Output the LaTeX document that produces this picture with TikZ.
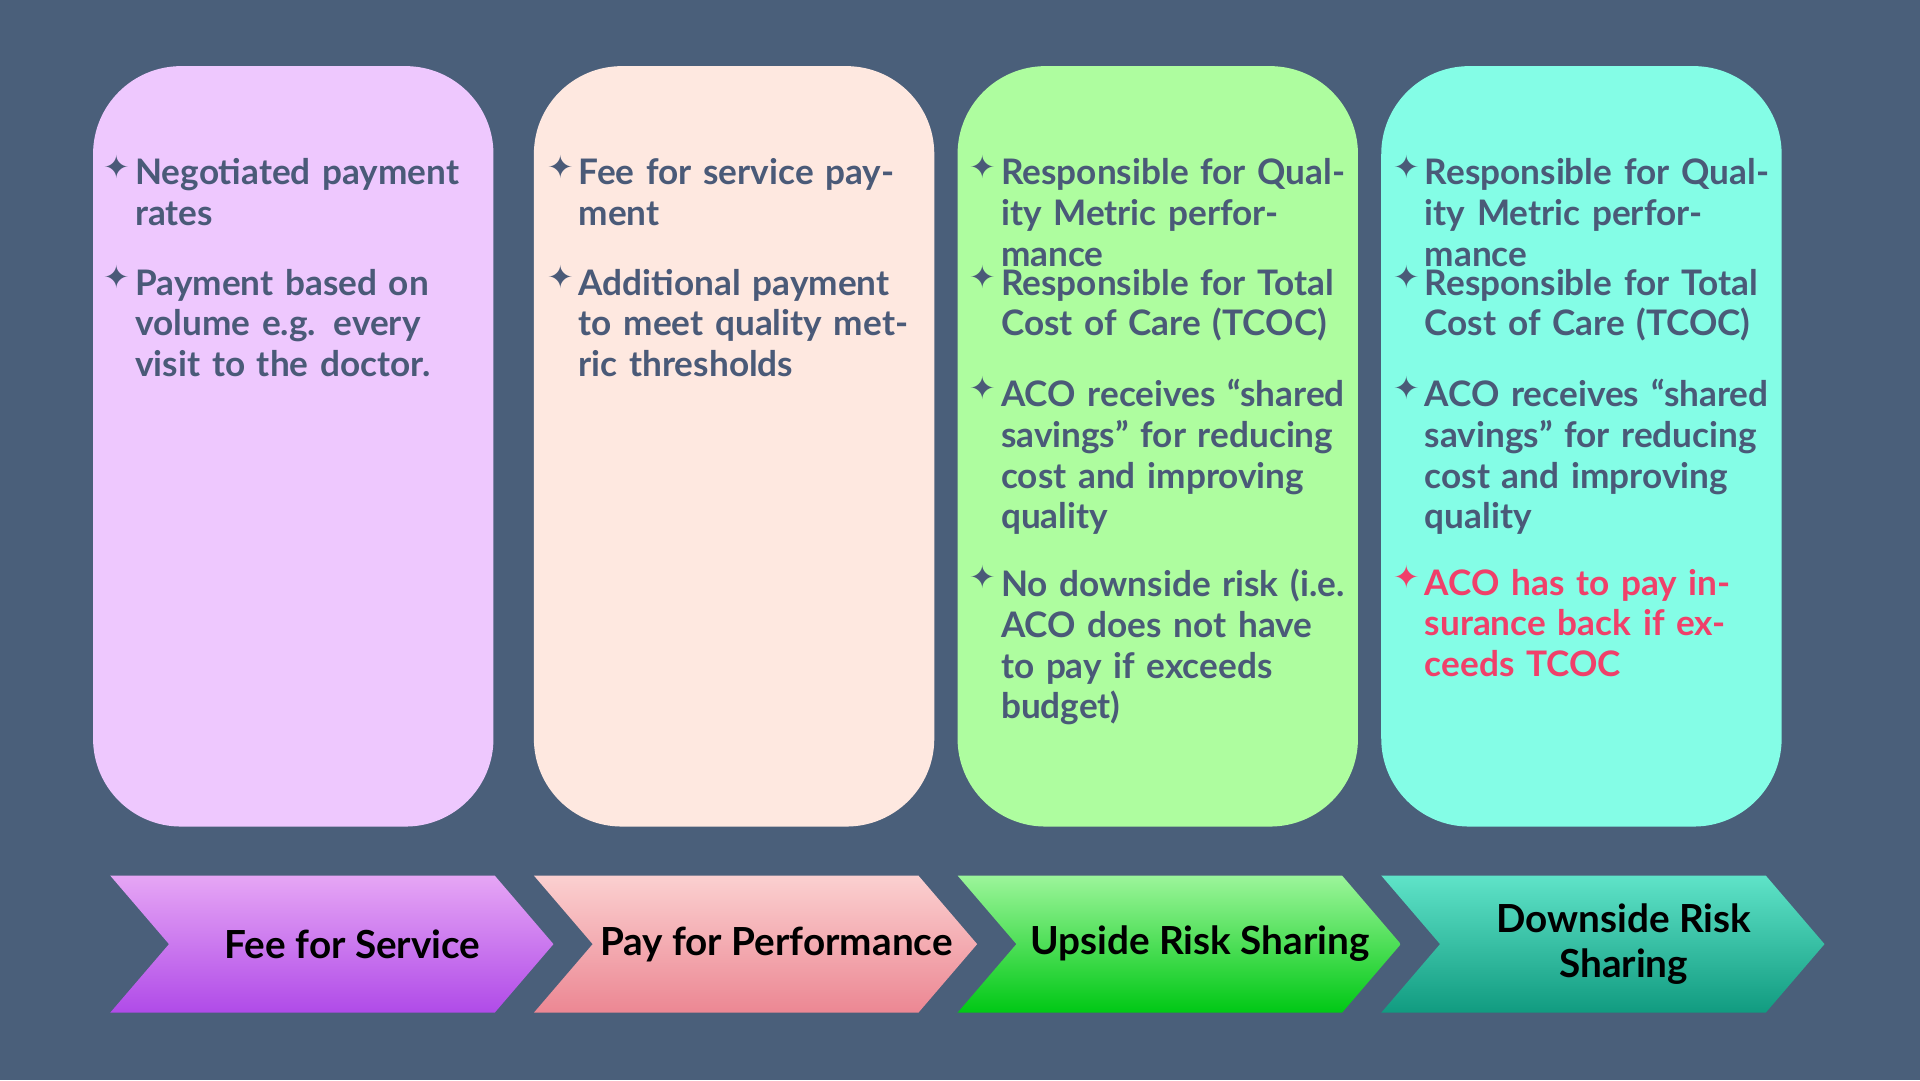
\documentclass[tikz,border=0pt]{standalone}
\usepackage{fontspec}
\setmainfont{Lato}
\newfontfamily\symfont{DejaVu Sans}
\usetikzlibrary{positioning}
\definecolor{bg}{HTML}{4A5F7A}
\definecolor{txt}{HTML}{4A5A78}
\definecolor{alert}{HTML}{F0406A}
\definecolor{cardA}{HTML}{EEC8FE}
\definecolor{cardB}{HTML}{FEE8E0}
\definecolor{cardC}{HTML}{AEFD9F}
\definecolor{cardD}{HTML}{84FDE6}
\definecolor{topA}{HTML}{E6A6F5}
\definecolor{botA}{HTML}{B04BE8}
\definecolor{topB}{HTML}{FBD0D0}
\definecolor{botB}{HTML}{EC8793}
\definecolor{topC}{HTML}{9CF59A}
\definecolor{botC}{HTML}{00C815}
\definecolor{topD}{HTML}{5FE3C8}
\definecolor{botD}{HTML}{119B80}
\tikzset{
  card/.style = {rounded corners=25, draw=none},
  point/.style = {anchor=north west, inner sep=0pt, text width=3.5cm, align=left,
    font=\bfseries\fontsize{10pt}{11.6pt}\selectfont, text=txt},
  star/.style = {anchor=north east, inner sep=0pt, text=txt, font=\symfont\fontsize{9pt}{11pt}\selectfont},
  steplabel/.style = {font=\bfseries\fontsize{11pt}{13pt}\selectfont, align=center, text=black}
}
\newcommand\chevron[4]{% x, top color, bottom color, name
  \shade[top color=#2, bottom color=#3]
    (#1,715) -- ++(314,0) -- ++(48,56) -- ++(-48,56) -- ++(-314,0) -- ++(48,-56) -- cycle;
  \coordinate (#4) at ({#1+198},771);
}
\begin{document}
\begin{tikzpicture}[x=0.012245cm,y=-0.012245cm]
  \fill[bg] (0,0) rectangle (1568,882);
  % cards
  \fill[card,cardA] (76,54) rectangle (403,675);
  \fill[card,cardB] (436,54) rectangle (763,675);
  \fill[card,cardC] (782,54) rectangle (1109,675);
  \fill[card,cardD] (1128,54) rectangle (1455,675);
  % column 1
  \node[point] (a1) at (110,129) {Negotiated payment rates};
  \node[point] (a2) at (110,219) {Payment based on volume e.g. every visit to the doctor.};
  % column 2
  \node[point] (b1) at (472,129) {Fee for service payment};
  \node[point] (b2) at (472,219) {Additional payment to meet quality metric thresholds};
  % column 3
  \node[point] (c1) at (817,129) {Responsible for Quality Metric performance};
  \node[point] (c2) at (817,219) {Responsible for Total Cost of Care (TCOC)};
  \node[point] (c3) at (817,309) {ACO receives “shared savings” for reducing cost and improving quality};
  \node[point] (c4) at (817,464) {No downside risk (i.e. ACO does not have to pay if exceeds budget)};
  % column 4
  \node[point] (d1) at (1163,129) {Responsible for Quality Metric performance};
  \node[point] (d2) at (1163,219) {Responsible for Total Cost of Care (TCOC)};
  \node[point] (d3) at (1163,309) {ACO receives “shared savings” for reducing cost and improving quality};
  \node[point,text=alert] (d4) at (1163,464) {ACO has to pay insurance back if exceeds TCOC};
  % bullets
  \foreach \n in {a1,a2,b1,b2,c1,c2,c3,c4,d1,d2,d3}
    \node[star] at ([xshift=-1pt,yshift=1pt]\n.north west) {✦};
  \node[star,text=alert] at ([xshift=-1pt,yshift=1pt]d4.north west) {✦};
  % steps
  \chevron{90}{topA}{botA}{s1}
  \chevron{436}{topB}{botB}{s2}
  \chevron{782}{topC}{botC}{s3}
  \chevron{1128}{topD}{botD}{s4}
  \node[steplabel] (l1) at (s1) {Fee for Service};
  \node[steplabel] (l2) at (s2) {Pay for Performance};
  \node[steplabel] (l3) at (s3) {Upside Risk Sharing};
  \node[steplabel] (l4) at (s4) {Downside Risk\\Sharing};
\end{tikzpicture}
\end{document}
